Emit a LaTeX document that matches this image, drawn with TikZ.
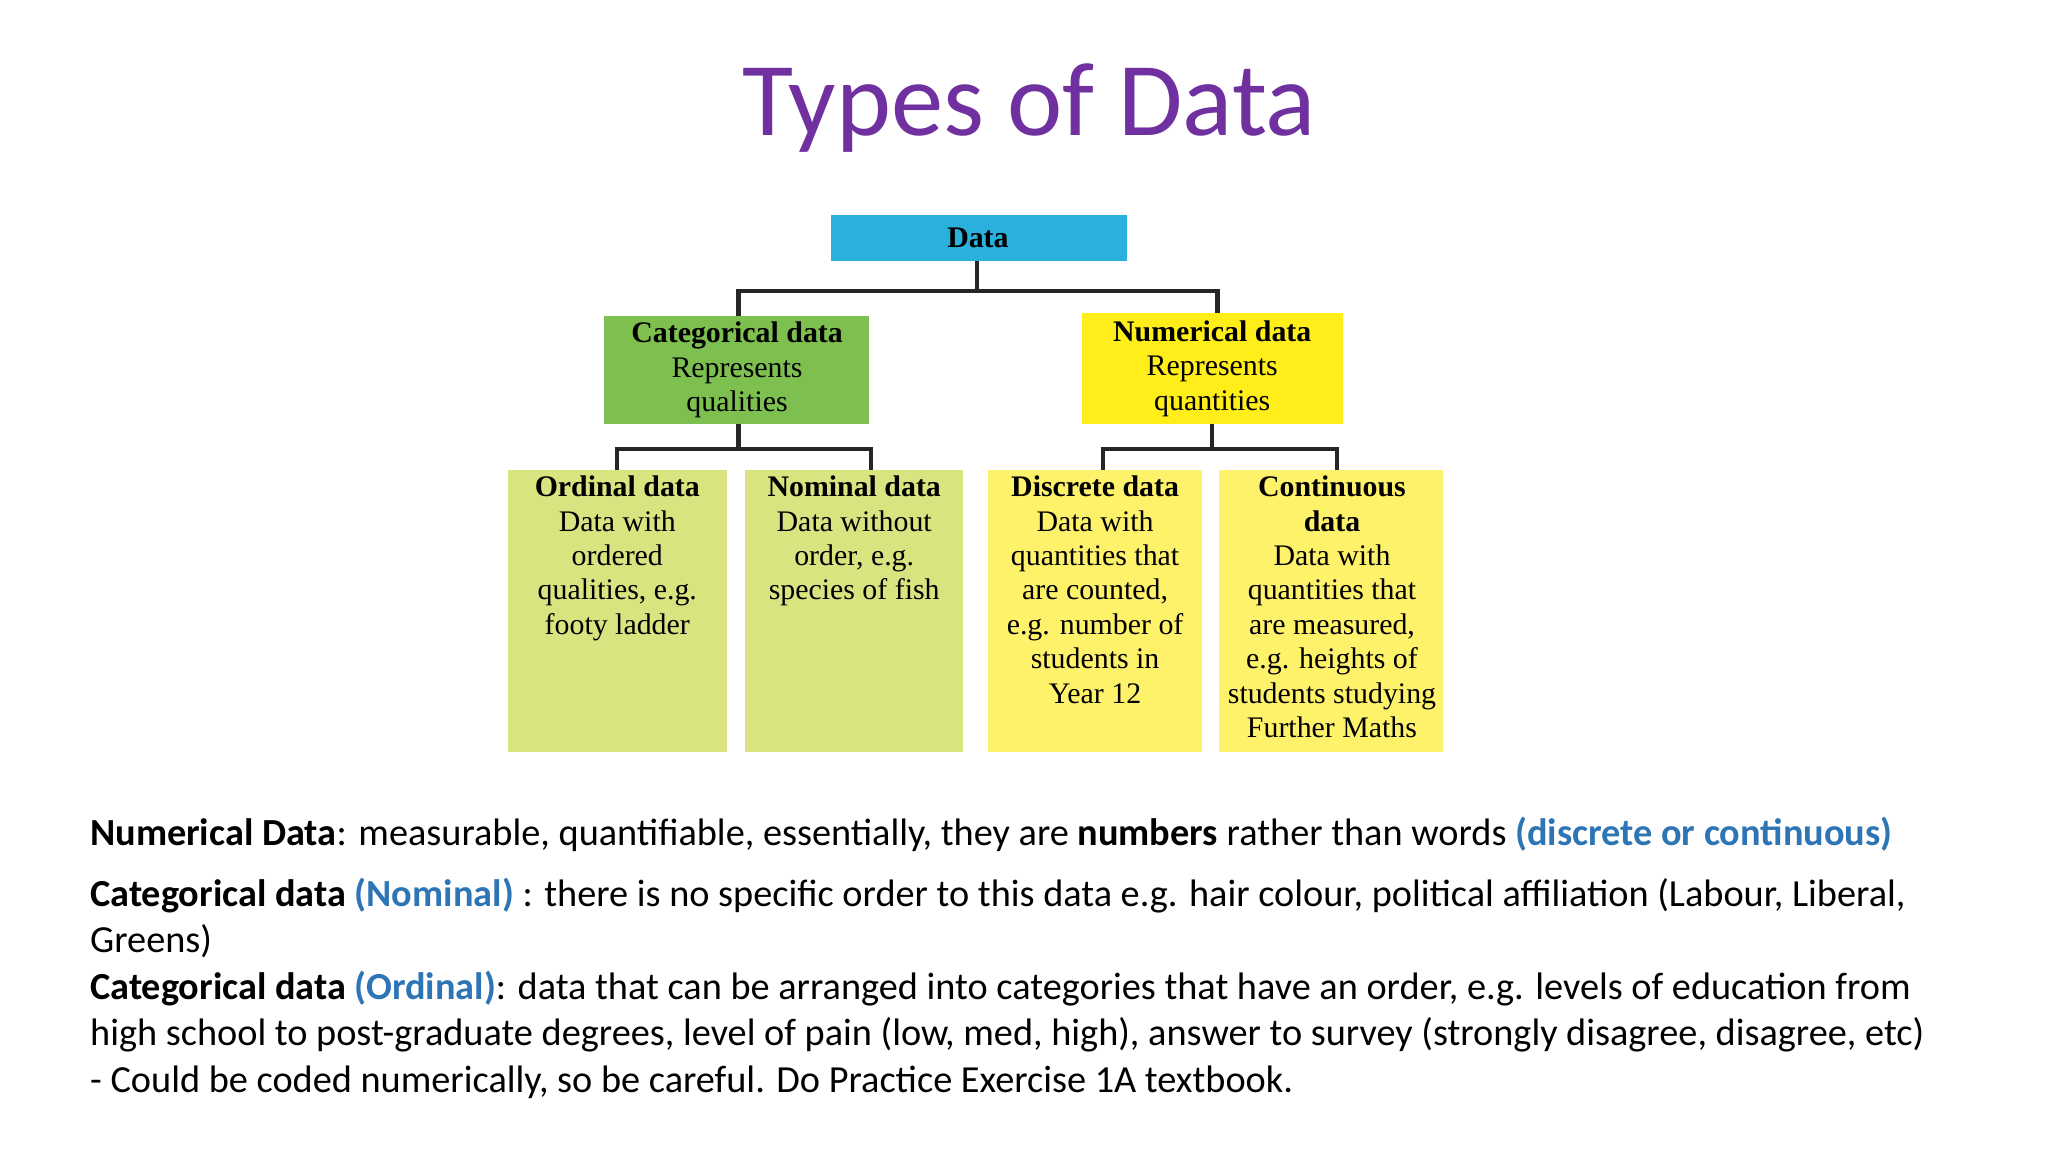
\documentclass[tikz,border=0pt]{standalone}
\usepackage{fontspec}
\setmainfont{Carlito}
\newfontfamily\boxfont{Liberation Serif}
\definecolor{ttl}{HTML}{7030A0}
\definecolor{bl}{HTML}{2E75B6}
\definecolor{cy}{HTML}{2AB0DC}
\definecolor{gr}{HTML}{7DC050}
\definecolor{ye}{HTML}{FFEE1A}
\definecolor{lg}{HTML}{D9E480}
\definecolor{ly}{HTML}{FFF26B}
\begin{document}
\begin{tikzpicture}[x=0.013162cm,y=-0.013162cm,
 bx/.style={inner sep=0pt,align=center,font=\boxfont\fontsize{8.5}{9.8}\selectfont},
 ln/.style={line width=1.2pt,black!85}]
\useasboundingbox (0,0) rectangle (1556,875);
\node[text=ttl,font=\fontsize{29.8}{34}\selectfont] (title) at (782,82) {Types of Data};
% boxes
\fill[cy] (631,163) rectangle (856,198);
\node[bx] (data) at (743,180.5) {\textbf{Data}};
\fill[gr] (459,240) rectangle (660,322);
\node[bx] (cat) at (560,281) {\textbf{Categorical data}\\Represents\\qualities};
\fill[ye] (822,238) rectangle (1020,322);
\node[bx] (num) at (921,280) {\textbf{Numerical data}\\Represents\\quantities};
\fill[lg] (386,357) rectangle (552,571);
\fill[lg] (566,357) rectangle (732,571);
\fill[ly] (751,357) rectangle (913,571);
\fill[ly] (926,357) rectangle (1096,571);
\node[bx,anchor=north] (ord) at (469,361) {\textbf{Ordinal data}\\Data with\\ordered\\qualities, e.g.\\footy ladder};
\node[bx,anchor=north] (nom) at (649,361) {\textbf{Nominal data}\\Data without\\order, e.g.\\species of fish};
\node[bx,anchor=north] (dis) at (832,361) {\textbf{Discrete data}\\Data with\\quantities that\\are counted,\\e.g. number of\\students in\\Year 12};
\node[bx,anchor=north] (con) at (1012,361) {\textbf{Continuous}\\\textbf{data}\\Data with\\quantities that\\are measured,\\e.g. heights of\\students studying\\Further Maths};
% connectors
\coordinate (d0) at (742,198);
\draw[ln] (d0) -- (742,221) (561,240) -- (561,221) -- (925,221) -- (925,238);
\coordinate (c0) at (561,322);
\draw[ln] (c0) -- (561,341) (469,357) -- (469,341) -- (662,341) -- (662,357);
\coordinate (n0) at (921,322);
\draw[ln] (n0) -- (921,341) (838,357) -- (838,341) -- (1016,341) -- (1016,357);
% text
\begin{scope}[every node/.style={anchor=base west,inner sep=0pt,font=\fontsize{10.9}{13}\selectfont}]
\node (t1) at (68,642) {\textbf{Numerical Data}: measurable, quantifiable, essentially, they are \textbf{numbers} rather than words \textbf{\color{bl}(discrete or continuous)}};
\node (t2) at (68,689) {\textbf{Categorical data {\color{bl}(Nominal)}} : there is no specific order to this data e.g. hair colour, political affiliation (Labour, Liberal,};
\node (t3) at (68,724) {Greens)};
\node (t4) at (68,759) {\textbf{Categorical data {\color{bl}(Ordinal)}}: data that can be arranged into categories that have an order, e.g. levels of education from};
\node (t5) at (68,794) {high school to post-graduate degrees, level of pain (low, med, high), answer to survey (strongly disagree, disagree, etc)};
\node (t6) at (68,830) {- Could be coded numerically, so be careful. Do Practice Exercise 1A textbook.};
\end{scope}
\end{tikzpicture}
\end{document}
